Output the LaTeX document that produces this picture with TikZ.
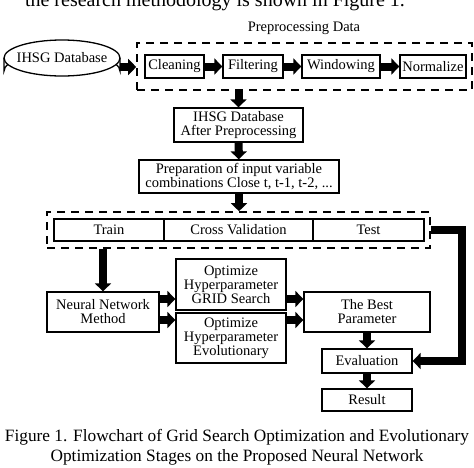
\documentclass[tikz,border=0pt]{standalone}
\usepackage{fontspec}
\setmainfont{Liberation Serif}
\usetikzlibrary{arrows.meta}
\begin{document}
\begin{tikzpicture}[x=1pt,y=-1pt,
    every node/.style={inner sep=0pt,align=center,font=\fontsize{14.5}{14}\selectfont},
    box/.style={draw,line width=1.3pt,minimum height=23pt},
    dbox/.style={draw,line width=1.6pt,dash pattern=on 8pt off 6pt},
    fat/.style={line width=8pt,-{Triangle[length=8pt,width=16pt]}}]
    \useasboundingbox (0,0) rectangle (474,467);
    \node[anchor=base,font=\fontsize{20}{20}\selectfont] (t) at (215,6) {the research methodology is shown in Figure 1.};
    % database
    \draw[line width=1.3pt,fill=white] (4,58) -- (4,71) arc[start angle=180,end angle=360,x radius=58,y radius=18] -- (120,58);
    \draw[line width=1.3pt,fill=white] (62,58) ellipse[x radius=58,y radius=18];
    \node[minimum width=116pt] (1) at (62,58) {IHSG Database};
    % preprocessing
    \node[dbox,minimum width=335pt,minimum height=47pt] (0) at (304.5,66.5) {};
    \node (p) at (304,28) {Preprocessing Data};
    \node[box,minimum width=59pt] (2) at (174.5,66.5) {Cleaning};
    \node[box,minimum width=60pt] (3) at (253,66.5) {Filtering};
    \node[box,minimum width=78pt] (4) at (341,66.5) {Windowing};
    \node[box,minimum width=66pt] (5) at (433,66.5) {Normalize};
    \path[draw,fat] ([yshift=-9pt]1.east) -- ([yshift=-9pt]1.east -| 0.west);
    \path[draw,fat] (2) -- (3);
    \path[draw,fat] (3) -- (4);
    \path[draw,fat] (4) -- (5);
    \node[box,minimum width=129pt,minimum height=34pt] (6) at (238.5,125) {IHSG Database\\After Preprocessing};
    \node[box,minimum width=200pt,minimum height=33pt] (7) at (239,176.5) {Preparation of input variable\\combinations Close t, t-1, t-2, ...};
    \path[draw,fat] (0.south -| 6.north) -- (6.north);
    \path[draw,fat] (6) -- (7);
    % data split
    \node[dbox,minimum width=383pt,minimum height=36pt] (8) at (238.5,230) {};
    \node[box,minimum width=110pt,minimum height=22pt] (9) at (109,230) {Train};
    \node[box,minimum width=149pt,minimum height=22pt] (10) at (238.5,230) {Cross Validation};
    \node[box,minimum width=111pt,minimum height=22pt] (11) at (368.5,230) {Test};
    \path[draw,fat] (7) -- (8.north -| 7.south);
    % optimization
    \node[box,minimum width=112pt,minimum height=40pt] (12) at (103,312) {Neural Network\\Method};
    \node[box,minimum width=110pt,minimum height=51pt] (13) at (231,284.5) {Optimize\\Hyperparameter\\GRID Search};
    \node[box,minimum width=110pt,minimum height=50pt] (14) at (231,338) {Optimize\\Hyperparameter\\Evolutionary};
    \node[box,minimum width=126pt,minimum height=40pt] (15) at (367,312) {The Best\\Parameter};
    \node[box,minimum width=90pt,minimum height=24pt] (16) at (367,361) {Evaluation};
    \node[box,minimum width=90pt,minimum height=22pt] (17) at (367,400) {Result};
    \path[draw,fat] (8.south -| 12.north) -- (12.north);
    \path[draw,fat] ([yshift=13pt]12.east) -- ([yshift=13pt]12.east -| 13.west);
    \path[draw,fat] ([yshift=-8pt]12.east) -- ([yshift=-8pt]12.east -| 14.west);
    \path[draw,fat] ([yshift=13pt]15.west -| 13.east) -- ([yshift=13pt]15.west);
    \path[draw,fat] ([yshift=-8pt]15.west -| 14.east) -- ([yshift=-8pt]15.west);
    \path[draw,fat] (15) -- (16);
    \path[draw,fat] (16) -- (17);
    \path[draw,fat,line join=miter] (8.east |- 11.east) -- ++(31,0) |- (16.east);
    % caption
    \node[font=\fontsize{17.3}{20}\selectfont] (18) at (237,447) {Figure 1. Flowchart of Grid Search Optimization and Evolutionary\\Optimization Stages on the Proposed Neural Network};
\end{tikzpicture}
\end{document}
